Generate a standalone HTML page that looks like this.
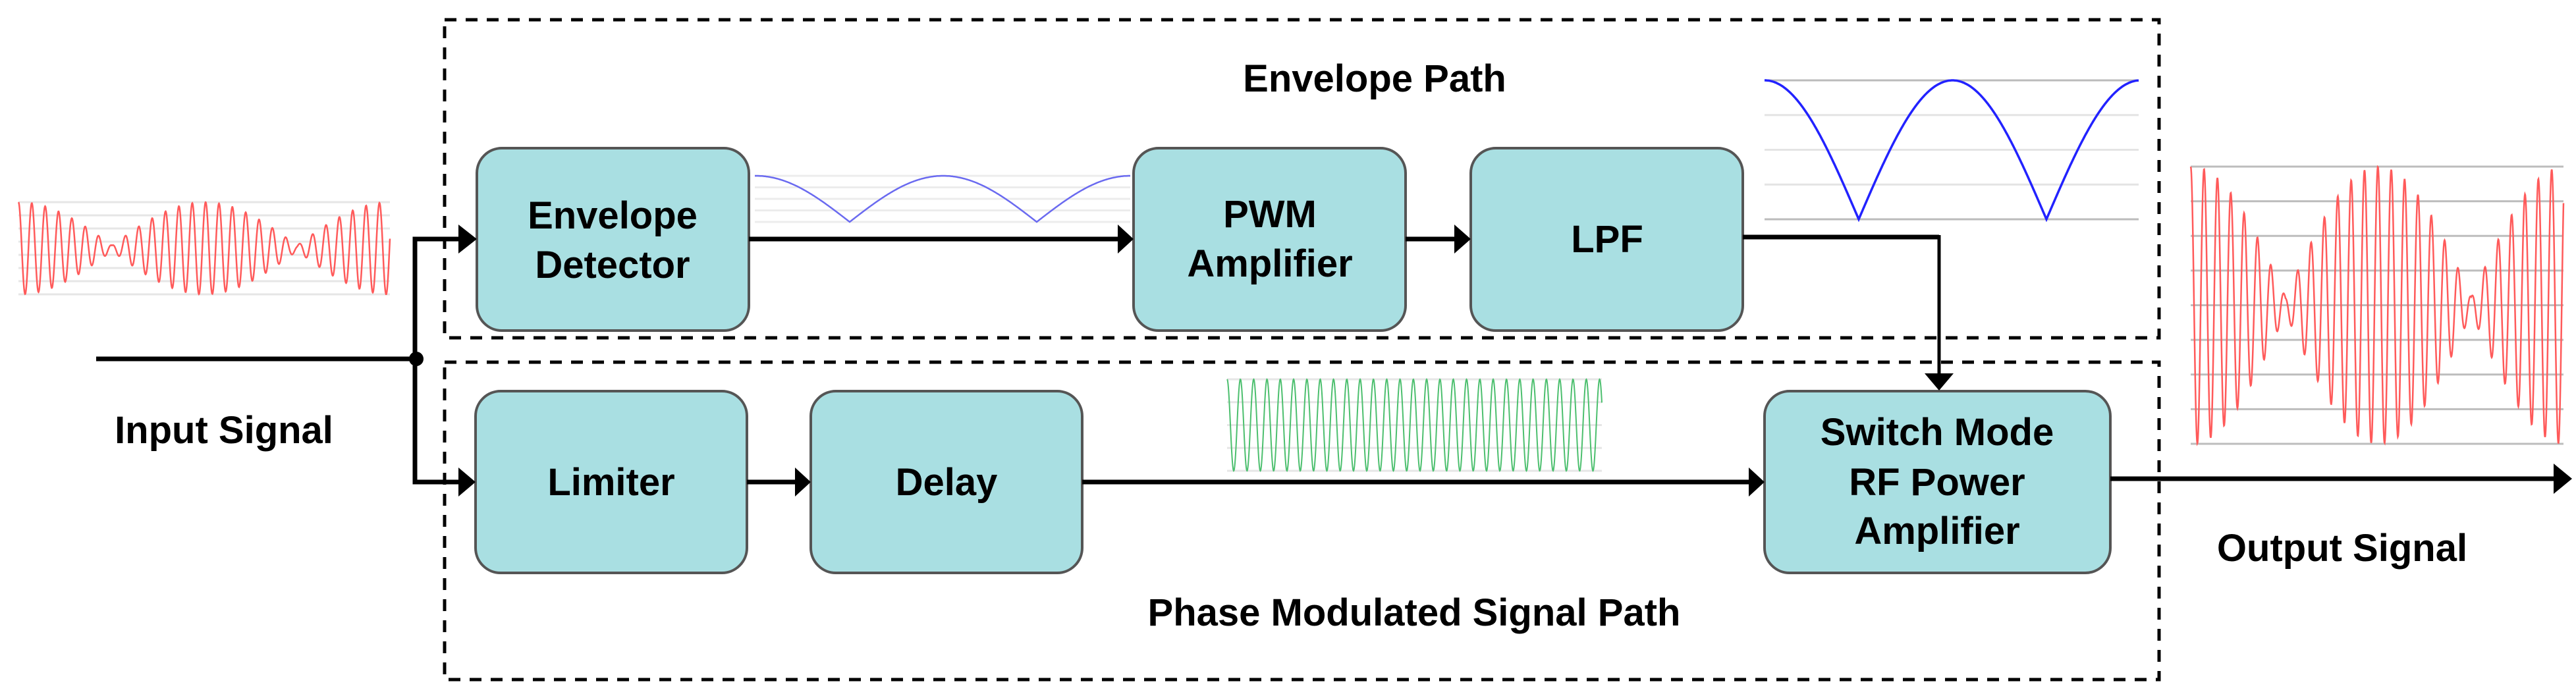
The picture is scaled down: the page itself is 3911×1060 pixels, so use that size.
<!DOCTYPE html>
<html><head><meta charset="utf-8">
<style>
html,body{margin:0;padding:0;background:#fff;}
svg{display:block;}
text{font-family:"Liberation Sans",Arial,sans-serif;font-weight:bold;font-size:58px;fill:#000;text-anchor:middle;}
</style></head>
<body>
<svg id="s" width="3911" height="1060" viewBox="0 0 3911 1060" xmlns="http://www.w3.org/2000/svg">
<g id="waves"></g>
<!-- dashed boxes -->
<rect x="675" y="30" width="2603" height="483" fill="none" stroke="#000" stroke-width="5" stroke-dasharray="18 14"/>
<rect x="675" y="550" width="2603" height="482" fill="none" stroke="#000" stroke-width="5" stroke-dasharray="18 14"/>
<!-- blocks -->
<g fill="#a9dfe2" stroke="#555" stroke-width="4">
<rect x="724" y="225" width="413" height="277" rx="38"/>
<rect x="1721" y="225" width="413" height="277" rx="38"/>
<rect x="2233" y="225" width="413" height="277" rx="38"/>
<rect x="722" y="594" width="412" height="276" rx="38"/>
<rect x="1231" y="594" width="412" height="276" rx="38"/>
<rect x="2679" y="594" width="525" height="276" rx="38"/>
</g>
<!-- connectors -->
<g stroke="#000" fill="none" stroke-width="7">
<line x1="146" y1="545" x2="632" y2="545"/>
<polyline points="700,363 630,363 630,732 700,732"/>
<line x1="1137" y1="363" x2="1700" y2="363"/>
<line x1="2134" y1="363" x2="2212" y2="363"/>
<polyline points="2646,360 2944,360" />
<line x1="2944" y1="357" x2="2944" y2="570" stroke-width="5"/>
<line x1="1134" y1="732" x2="1210" y2="732"/>
<line x1="1643" y1="732" x2="2658" y2="732"/>
<line x1="3204" y1="727" x2="3880" y2="727"/>
</g>
<circle cx="632" cy="545" r="11" fill="#000"/>
<g fill="#000">
<polygon points="696,341 724,363 696,385"/>
<polygon points="696,710 722,732 696,754"/>
<polygon points="1697,341 1721,363 1697,385"/>
<polygon points="2208,341 2233,363 2208,385"/>
<polygon points="1207,710 1231,732 1207,754"/>
<polygon points="2655,710 2679,732 2655,754"/>
<polygon points="2922,567 2966,567 2944,593"/>
<polygon points="3877,704 3905,727 3877,750"/>
</g>
<!-- labels -->
<text x="930" y="347">Envelope</text>
<text x="930" y="422">Detector</text>
<text x="1928" y="345">PWM</text>
<text x="1928" y="420">Amplifier</text>
<text x="2440" y="383">LPF</text>
<text x="928" y="752">Limiter</text>
<text x="1437" y="752">Delay</text>
<text x="2941" y="676">Switch Mode</text>
<text x="2941" y="752">RF Power</text>
<text x="2941" y="826">Amplifier</text>
<text x="2087" y="139">Envelope Path</text>
<text x="2147" y="950">Phase Modulated Signal Path</text>
<text x="340" y="673">Input Signal</text>
<text x="3556" y="852">Output Signal</text>
</svg>
<script>
(function(){
var NS="http://www.w3.org/2000/svg",g=document.getElementById("waves");
function add(tag,attrs){var e=document.createElementNS(NS,tag);for(var k in attrs)e.setAttribute(k,attrs[k]);g.appendChild(e);return e;}
function grid(x0,x1,y0,y1,n,col,w){for(var i=0;i<=n;i++){var y=y0+(y1-y0)*i/n;add("line",{x1:x0,x2:x1,y1:y,y2:y,stroke:col,"stroke-width":w});}}
function am(x0,x1,y0,y1,n1,n2,T){
  var d="",yc=(y0+y1)/2,A=(y1-y0)/2;
  for(var x=x0;x<=x1;x+=0.5){
    var env=0.06+0.94*Math.abs(Math.sin(Math.PI*(x-n1)/(n2-n1)));
    var y=yc-A*env*Math.cos(2*Math.PI*(x-x0)/T);
    d+=(d?"L":"M")+x.toFixed(1)+","+y.toFixed(1);
  }
  add("path",{d:d,fill:"none",stroke:"#ff5a5a","stroke-width":2.5});
}
function rect(x0,x1,y0,y1,n1,n2,col,w){
  var d="";
  for(var x=x0;x<=x1;x+=1){
    var y=y0+(y1-y0)*(1-Math.abs(Math.cos(Math.PI*(x-n1)/(n2-n1)-Math.PI/2)));
    d+=(d?"L":"M")+x+","+y.toFixed(1);
  }
  add("path",{d:d,fill:"none",stroke:col,"stroke-width":w});
}
grid(28,592,307,447,7,"#e6e6e6",3);
am(28,592,307,447,170,451,20.3);
grid(3326,3892,253,674,8,"#bdbdbd",3);
am(3326,3892,253,674,3470,3752,20.3);
grid(1146,1716,267,337,4,"#ececec",3);
rect(1146,1716,267,337,1290,1574,"#6a6af0",2.5);
grid(2679,3247,122,333,4,"#e4e4e4",3);
add("line",{x1:2679,x2:3247,y1:122,y2:122,stroke:"#bbb","stroke-width":3});
add("line",{x1:2679,x2:3247,y1:333,y2:333,stroke:"#bbb","stroke-width":3});
rect(2679,3247,122,333,2822,3107,"#2222ff",3.5);
grid(1863,2432,576,715,4,"#e6e6e6",3);
var d="";for(var x=1863;x<=2432;x+=0.5){var y=645.5-69.5*Math.cos(2*Math.PI*(x-1863)/20.2);d+=(d?"L":"M")+x+","+y.toFixed(1);}
add("path",{d:d,fill:"none",stroke:"#4cbf6e","stroke-width":2});
})();
</script>
</body></html>
